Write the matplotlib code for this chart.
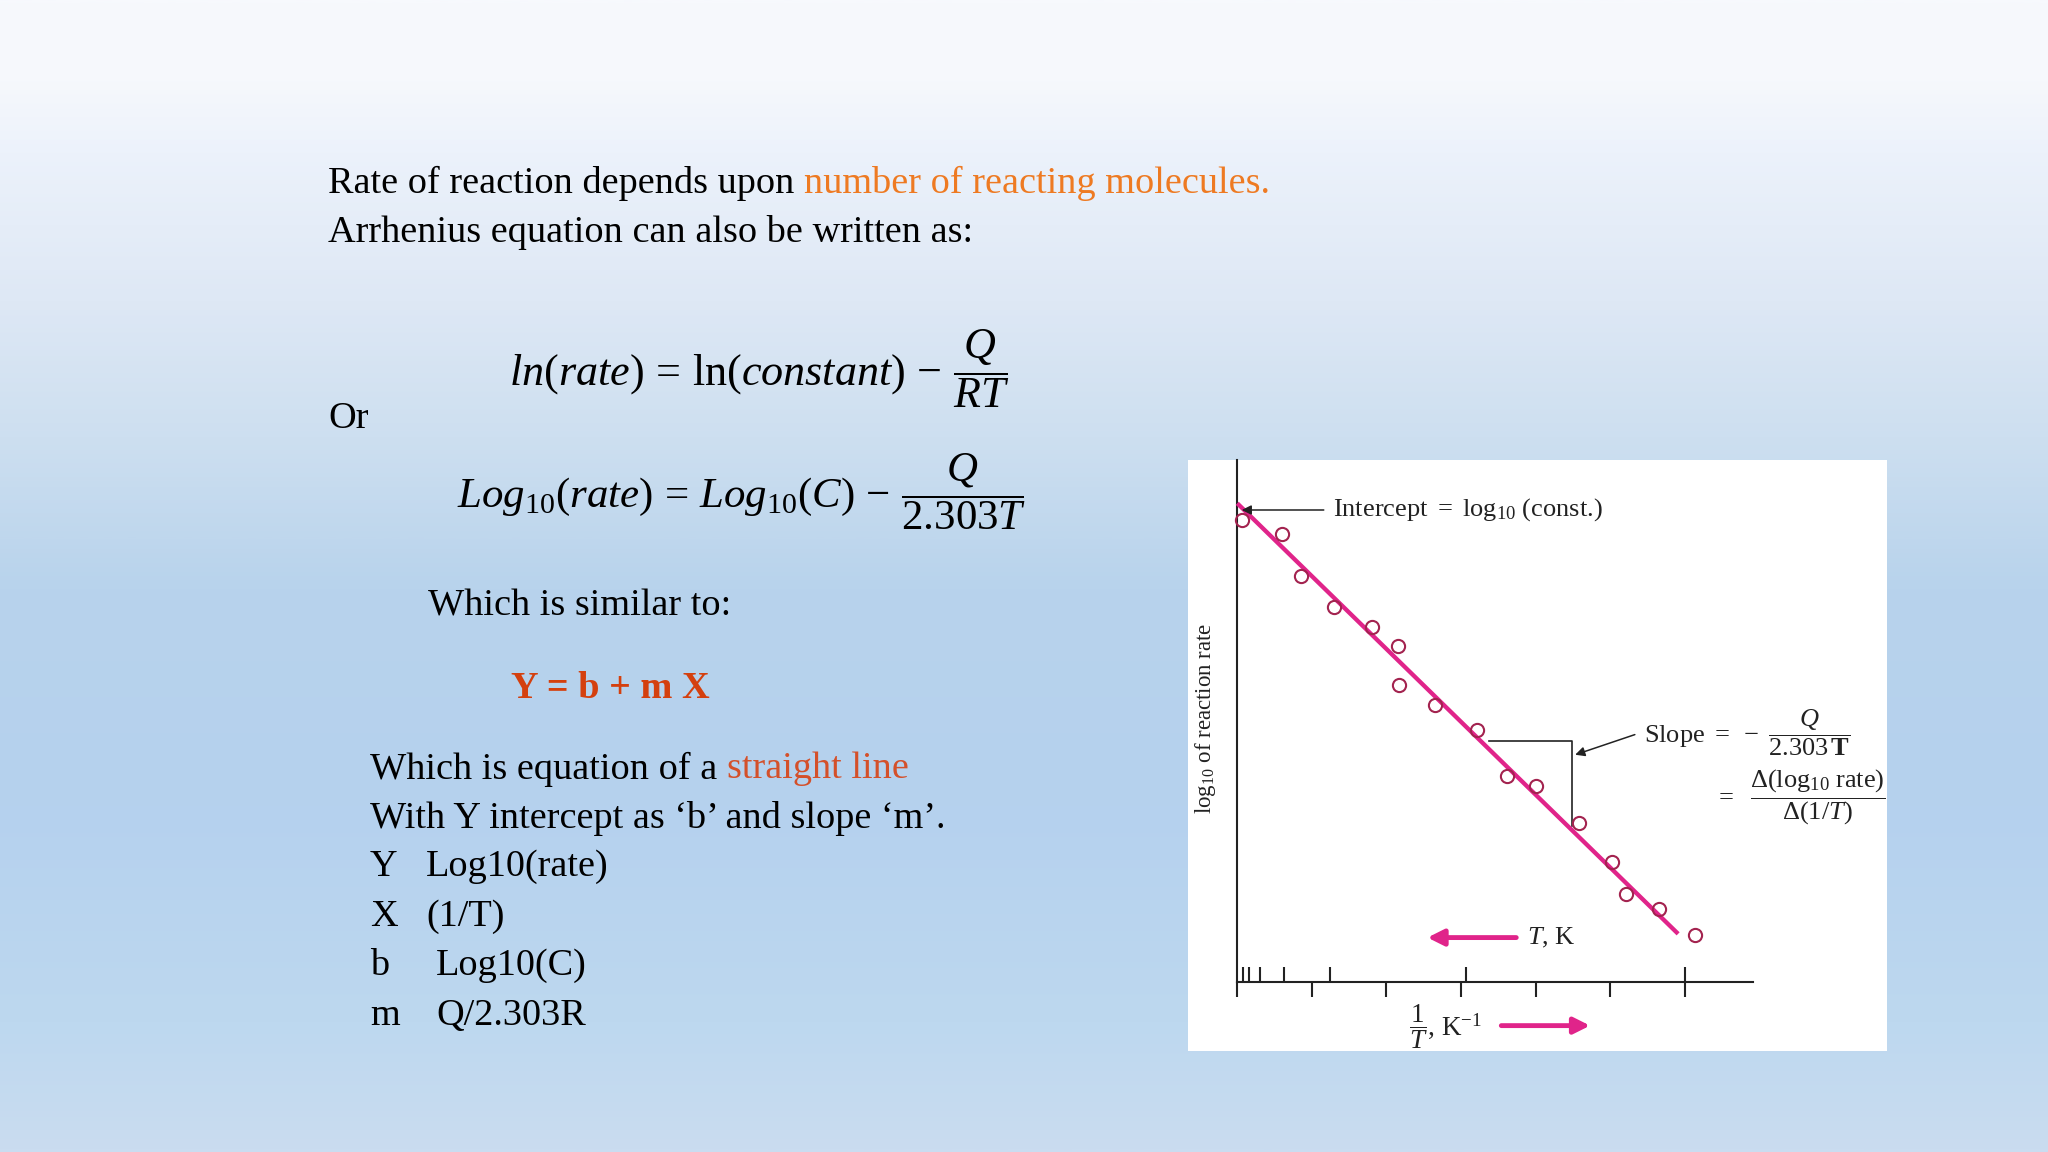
import matplotlib
matplotlib.use("Agg")
import matplotlib.pyplot as plt
import numpy as np
from matplotlib.colors import LinearSegmentedColormap

plt.rcParams['font.family'] = ['Liberation Serif', 'DejaVu Serif']
plt.rcParams['mathtext.fontset'] = 'custom'
plt.rcParams['mathtext.rm'] = 'Liberation Serif'
plt.rcParams['mathtext.it'] = 'Liberation Serif:italic'
plt.rcParams['mathtext.bf'] = 'Liberation Serif:bold'

# data (1/T in tick units, log10 rate in same units)
inv_T = [0.07, 0.60, 0.85, 1.30, 1.80, 2.15, 2.17, 2.65, 3.21, 3.62,
         4.00, 4.58, 5.03, 5.21, 5.66, 6.14]
log_rate = [6.19, 6.01, 5.45, 5.03, 4.76, 4.51, 3.98, 3.72, 3.38, 2.77,
            2.63, 2.13, 1.61, 1.19, 0.98, 0.64]
fit_x = [0.0, 5.91]
fit_y = [6.42, 0.65]
inv_T_ticks = [0, 1, 2, 3, 4, 5, 6]
T_ticks = [0.08, 0.16, 0.31, 0.63, 1.25, 3.07, 6.0]
slope_x = [3.37, 4.49, 4.49]
slope_y = [3.23, 3.23, 2.09]

# background gradient stops (fraction from top, colour)
bg_stops = [(0.0, '#F7F9FD'), (0.07, '#F6F8FC'), (0.13, '#ECF2FB'),
            (0.26, '#DEE8F5'), (0.38, '#CDDFF0'), (0.51, '#B8D3EC'),
            (0.70, '#B5D1EE'), (0.89, '#BDD8EF'), (1.0, '#CADCF0')]

PINK = '#E0248A'
DOT = '#A3234F'
INK = '#222222'

fig = plt.figure(figsize=(20.48, 11.52), dpi=100)

bg = fig.add_axes([0, 0, 1, 1])
cmap = LinearSegmentedColormap.from_list('bg', bg_stops)
bg.imshow(np.linspace(0, 1, 512).reshape(-1, 1), aspect='auto', cmap=cmap,
          extent=[0, 1, 0, 1])
bg.set_xlim(0, 1)
bg.set_ylim(0, 1)
bg.axis('off')


def px(x, y):
    return x / 2048, 1 - y / 1152


fs = 27.5
# header lines
t = fig.text(*px(328, 183), 'Rate of reaction depends upon ', fontsize=fs,
             va='center', ha='left')
fig.canvas.draw()
bb = t.get_window_extent()
fig.text(bb.x1 / 2048, 1 - 183 / 1152, 'number of reacting molecules.',
         fontsize=fs, color='#EE7A22', va='center', ha='left')
fig.text(*px(328, 233), 'Arrhenius equation can also be written as:',
         fontsize=fs, va='center')
fig.text(*px(328, 419), 'Or', fontsize=fs, va='center')

fig.text(*px(509, 369),
         r'$ln(rate)\,=\,\mathrm{ln}(constant)\,-\,\dfrac{Q}{RT}$',
         fontsize=31.8, va='center')
fig.text(*px(457, 492),
         r'$Log_{10}(rate)\,=\,Log_{10}(C)\,-\,\dfrac{Q}{\mathrm{2.303}T}$',
         fontsize=30.9, va='center')

fig.text(*px(428, 606), 'Which is similar to:', fontsize=fs, va='center')
fig.text(*px(511, 688), 'Y = b + m X', fontsize=fs, va='center',
         color='#D4400E', fontweight='bold')

t = fig.text(*px(370, 769), 'Which is equation of a ', fontsize=fs,
             va='center')
fig.canvas.draw()
bb = t.get_window_extent()
fig.text(bb.x1 / 2048, 1 - 769 / 1152, 'straight line', fontsize=fs,
         color='#D4502A', va='center')
fig.text(*px(370, 818), 'With Y intercept as \u2018b\u2019 and slope \u2018m\u2019.',
         fontsize=fs, va='center')

legend_keys = ['Y', 'X', 'b', 'm']
legend_vals = ['Log10(rate)', '(1/T)', 'Log10(C)', 'Q/2.303R']
legend_x = [426, 426, 436, 436]
for i, (k, v) in enumerate(zip(legend_keys, legend_vals)):
    y = 867 + i * 49.5
    fig.text(*px(370, y), k, fontsize=fs, va='center')
    fig.text(*px(legend_x[i], y), v, fontsize=fs, va='center')

# chart panel: y axis at x=1237px, x axis at y=982px, 74.6 px per unit
x0, x1, y0, y1 = -0.66, 8.71, -0.92, 7.0
ax = fig.add_axes([1188 / 2048, 1 - 1051 / 1152, (1887 - 1188) / 2048,
                   (1051 - 460) / 1152])
ax.set_facecolor('white')
ax.set_xlim(x0, x1)
ax.set_ylim(y0, y1)
for s in ['top', 'right']:
    ax.spines[s].set_visible(False)
ax.spines['left'].set_position(('data', 0))
ax.spines['bottom'].set_position(('data', 0))
ax.spines['left'].set_bounds(0, 7.0)
ax.spines['bottom'].set_bounds(0, 6.92)
for s in ['left', 'bottom']:
    ax.spines[s].set_linewidth(1.5)
    ax.spines[s].set_color(INK)
ax.set_yticks([])
ax.set_xticks(inv_T_ticks)
ax.set_xticklabels([])
ax.set_xticks(T_ticks, minor=True)
ax.xaxis.remove_overlapping_locs = False
ax.tick_params(axis='x', which='major', direction='out', length=11,
               width=1.5, color=INK)
ax.tick_params(axis='x', which='minor', direction='in', length=10.5,
               width=1.5, color=INK)

ax.plot(fit_x, fit_y, color=PINK, lw=3.1, solid_capstyle='butt', zorder=3)
ax.plot(inv_T, log_rate, 'o', ms=9.5, mfc='none', mec=DOT, mew=1.5, zorder=4)
ax.plot(slope_x, slope_y, color=INK, lw=1.2, zorder=2)

afs = 19
ax.annotate('', xy=(0.06, 6.33), xytext=(1.16, 6.33),
            arrowprops=dict(arrowstyle='-|>', color=INK, lw=1.1,
                            mutation_scale=14, shrinkA=0, shrinkB=0))
ax.text(1.28, 6.33, r'Intercept $=$ log$_{10}$ (const.)', fontsize=afs,
        va='center', ha='left', color=INK)

ax.annotate('', xy=(4.53, 3.05), xytext=(5.33, 3.32),
            arrowprops=dict(arrowstyle='-|>', color=INK, lw=1.1,
                            mutation_scale=14, shrinkA=0, shrinkB=0))
ax.text(5.45, 3.34, r'Slope $=\ -\ \dfrac{Q}{\mathrm{2.303}\,\mathbf{T}}$',
        fontsize=afs, va='center', ha='left', color=INK)
ax.text(6.40, 2.48,
        r'$=\ \ \dfrac{\Delta(\mathrm{log}_{10}\ \mathrm{rate})}{\Delta(1/T)}$',
        fontsize=afs, va='center', ha='left', color=INK, clip_on=False)

ax.annotate('', xy=(2.55, 0.60), xytext=(3.74, 0.60),
            arrowprops=dict(arrowstyle='-|>', color=PINK, lw=3.5,
                            mutation_scale=24, shrinkA=0, shrinkB=0))
ax.text(3.88, 0.60, r'$T$, K', fontsize=afs, va='center', ha='left',
        color=INK)

ax.annotate('', xy=(4.73, -0.58), xytext=(3.54, -0.58),
            arrowprops=dict(arrowstyle='-|>', color=PINK, lw=3.5,
                            mutation_scale=24, shrinkA=0, shrinkB=0))
ax.text(2.30, -0.60, r'$\dfrac{1}{T}$, K$^{-1}$', fontsize=19.5,
        va='center', ha='left', color=INK)

ax.text(0.0245, 0.563, r'log$_{10}$ of reaction rate', fontsize=16.5,
        color=INK, rotation=90, ha='center', va='center',
        transform=ax.transAxes)

fig.savefig('out.png', dpi=100)
